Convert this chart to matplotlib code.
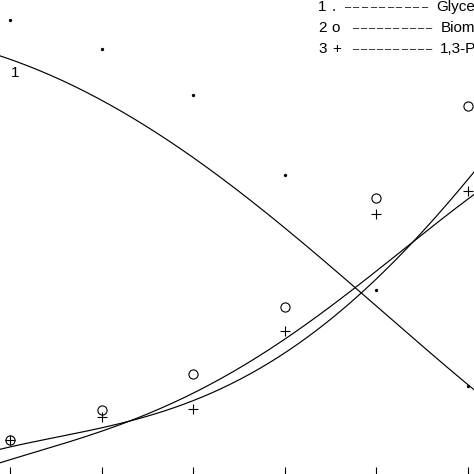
import numpy as np
import matplotlib
matplotlib.use("Agg")
import matplotlib.pyplot as plt

# ---- data ----
time = [0, 1, 2, 3, 4, 5]
glycerol = [47.9, 44.8, 40.0, 31.5, 19.4, 9.3]
biomass = [3.6, 6.7, 10.5, 17.6, 29.1, 38.8]
pdo = [3.6, 6.0, 6.9, 15.1, 27.4, 29.9]

# fitted curves
curve_t = [-0.11, 0, 0.5, 1, 1.5, 2, 2.5, 3, 3.5, 4, 4.5, 5, 5.07]
curve_glycerol = [44.20, 43.72, 41.60, 39.56, 36.60, 33.54, 29.75, 25.74, 21.94, 17.83, 13.50, 9.39, 8.86]
curve_a = [1.16, 1.48, 3.06, 4.54, 6.28, 8.33, 11.29, 14.35, 17.62, 21.41, 25.21, 29.01, 29.54]
curve_b = [2.64, 2.85, 3.80, 4.85, 6.12, 7.91, 9.81, 12.76, 16.24, 20.68, 25.53, 31.12, 31.86]

legend_nums = ["1", "2", "3"]
legend_syms = [".", "o", "+"]
legend_labels = ["Glycerol", "Biomass", "1,3-PD"]


def smooth(xs, ys, deg=4, n=200):
    """Least-squares smoothing of the sampled curve points."""
    c = np.polyfit(xs, ys, deg)
    tx = np.linspace(xs[0], xs[-1], n)
    return tx, np.polyval(c, tx)


W = 474
fig = plt.figure(figsize=(4.74, 4.74), dpi=100)
ax = fig.add_axes([0, 0, 1, 1])
ax.set_xlim(-10 / 91.6, 5 + 6 / 91.6)
ax.set_ylim(0, 50)
for s in ax.spines.values():
    s.set_visible(False)
ax.set_xticks(time)
ax.set_xticklabels([])
ax.set_yticks([])
ax.tick_params(axis="x", direction="in", length=5.2, width=0.8, color="black")

lw = 0.85
for cy in (curve_glycerol, curve_a, curve_b):
    sx, sy = smooth(curve_t, cy)
    ax.plot(sx, sy, color="black", lw=lw, clip_on=False)

ax.plot(time, glycerol, "o", color="black", ms=2.4, mew=0, clip_on=False)
ax.plot(time, biomass, "o", mfc="none", mec="black", ms=6.6, mew=0.8, clip_on=False)
ax.plot(time, pdo, "+", color="black", ms=7.5, mew=0.8, clip_on=False)

font = "Liberation Sans"
fs = 11


def px(x, y):
    return x / W, 1 - y / W


# curve label
fig.text(*px(15, 73), "1", ha="center", va="center", fontsize=fs, family=font)

# legend (text)
rows_y = [7, 28, 49]
sym_x = [334, 336, 337]
dash_start = [345, 353, 353]
dash_end = [428, 432, 432]
label_x = [436, 441, 440]
for i in range(3):
    y = rows_y[i]
    fig.text(*px(318, y), legend_nums[i], ha="left", va="center", fontsize=fs, family=font)
    fig.text(*px(sym_x[i], y), legend_syms[i], ha="center", va="center", fontsize=fs, family=font)
    for xx in np.linspace(dash_start[i] + 3, dash_end[i] - 3, 10):
        fig.text(*px(xx, y), "\u2013", ha="center", va="center", fontsize=8, family=font)
    fig.text(*px(label_x[i], y), legend_labels[i], ha="left", va="center", fontsize=fs, family=font)

fig.savefig("out.png", dpi=100)
